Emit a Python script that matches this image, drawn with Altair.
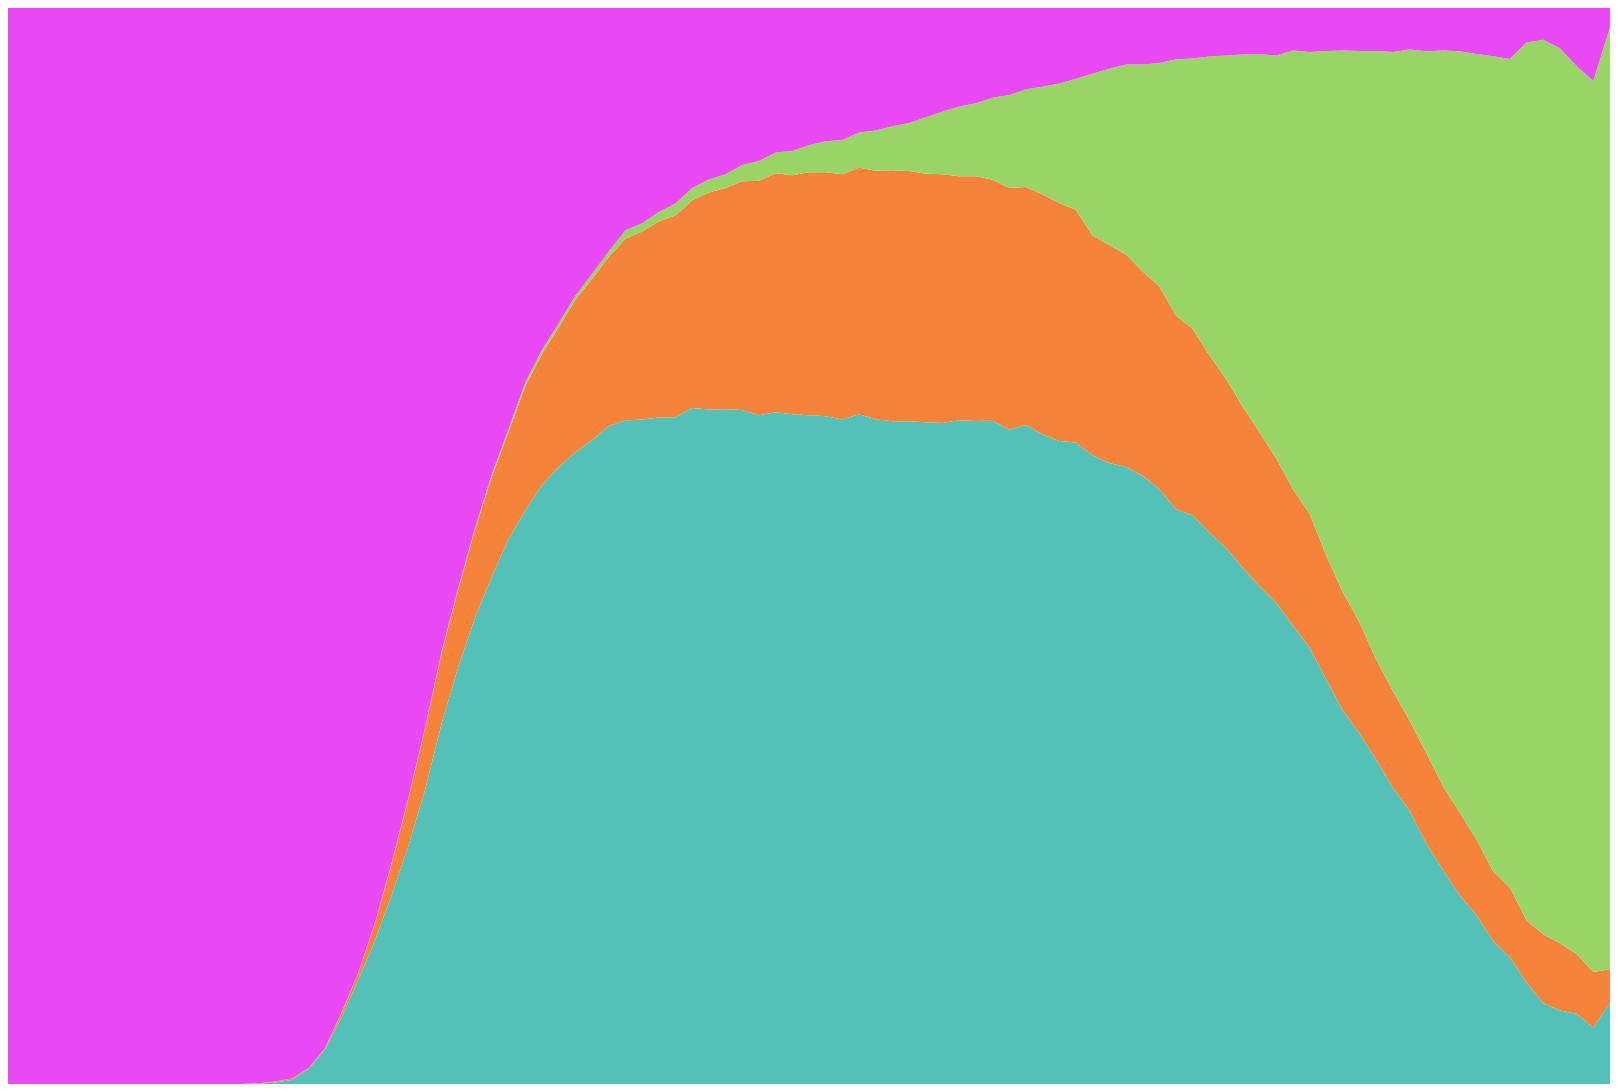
import altair as alt
import pandas as pd

# x positions (97 samples)
x_vals = list(range(97))

series_names = ["teal", "orange", "green", "magenta"]
series_colors = ["#54c1b9", "#f5843a", "#99d566", "#e94af5"]

teal = [0] * 15 + [
    0.02, 0.14, 0.37, 1.37, 3.21, 6.23, 9.71, 13.37, 17.58, 22.16,
    27.38, 33.61, 38.83, 43.41, 47.16, 50.64, 53.30, 55.68, 57.35, 58.73,
    59.83, 61.14, 61.66, 61.75, 61.95, 61.97, 62.82, 62.68, 62.70, 62.64,
    62.15, 62.43, 62.24, 62.15, 62.06, 61.75, 62.24, 61.79, 61.60, 61.60,
    61.51, 61.42, 61.69, 61.63, 61.63, 60.83, 61.24, 60.38, 59.77, 59.62,
    58.42, 57.72, 57.35, 56.50, 55.28, 53.39, 52.84, 51.22, 49.79, 47.96,
    46.27, 44.69, 42.58, 40.54, 37.57, 34.68, 32.54, 30.10, 27.50, 25.37,
    22.32, 19.87, 17.52, 15.69, 13.28, 11.77, 9.43, 7.51, 6.84, 6.53,
    5.22, 7.60,
]

orange = [0] * 15 + [
    0.04, 0.08, 0.13, 0.07, 0.11, 0.41, 0.60, 1.58, 2.93, 4.40,
    5.68, 6.55, 7.23, 8.15, 9.29, 9.98, 11.58, 12.18, 12.98, 14.17,
    14.99, 15.73, 16.90, 17.49, 18.21, 18.75, 19.32, 20.16, 20.57, 21.27,
    21.79, 22.22, 22.22, 22.58, 22.67, 22.80, 22.92, 23.08, 23.32, 23.26,
    23.08, 23.13, 22.67, 22.74, 22.41, 22.44, 22.12, 22.29, 22.10, 21.61,
    20.42, 20.26, 19.75, 19.02, 18.83, 18.01, 17.34, 16.48, 15.71, 14.95,
    14.29, 13.43, 12.70, 12.45, 11.51, 10.99, 10.32, 9.30, 9.01, 8.40,
    8.39, 7.78, 7.69, 7.02, 6.50, 6.48, 5.77, 6.41, 6.25, 5.56,
    5.19, 3.07,
]

green = [0] * 15 + [
    0.01, 0.01, 0.01, 0.02, 0.03, 0.05, 0.05, 0.06, 0.09, 0.09,
    0.09, 0.14, 0.18, 0.18, 0.23, 0.27, 0.32, 0.37, 0.37, 0.37,
    0.46, 0.50, 0.80, 0.75, 0.89, 1.12, 1.13, 1.22, 1.27, 1.50,
    1.83, 1.92, 2.26, 2.51, 2.88, 3.18, 3.27, 3.75, 4.09, 4.45,
    5.25, 5.81, 6.47, 6.78, 7.63, 8.64, 9.10, 10.01, 11.11, 12.21,
    15.05, 16.37, 17.65, 19.23, 20.79, 23.84, 25.13, 27.78, 30.07, 32.76,
    35.16, 37.45, 40.78, 42.91, 46.91, 50.39, 53.14, 56.59, 59.40, 62.39,
    65.27, 68.41, 70.76, 73.01, 75.73, 77.01, 81.59, 83.12, 83.18, 82.51,
    82.81, 87.56,
]

magenta = [100] * 15 + [
    99.93, 99.77, 99.50, 98.53, 96.66, 93.32, 89.65, 84.98, 79.40, 73.35,
    66.85, 59.71, 53.75, 48.26, 43.32, 39.10, 34.80, 31.78, 29.30, 26.74,
    24.73, 22.62, 20.65, 20.01, 18.96, 18.16, 16.73, 15.93, 15.46, 14.59,
    14.22, 13.43, 13.28, 12.76, 12.39, 12.27, 11.57, 11.38, 10.99, 10.69,
    10.16, 9.64, 9.16, 8.86, 8.33, 8.09, 7.54, 7.33, 7.02, 6.57,
    6.11, 5.65, 5.25, 5.25, 5.10, 4.76, 4.70, 4.51, 4.42, 4.33,
    4.28, 4.42, 3.94, 4.09, 4.00, 3.94, 4.00, 4.00, 4.09, 3.85,
    4.03, 3.94, 4.03, 4.28, 4.49, 4.73, 3.21, 2.96, 3.73, 5.40,
    6.78, 1.77,
]

rows = []
for order, (name, vals) in enumerate(zip(series_names, [teal, orange, green, magenta])):
    for xv, v in zip(x_vals, vals):
        rows.append({"x": xv, "v": v, "s": name, "o": order})
df = pd.DataFrame(rows)

chart = (
    alt.Chart(df)
    .mark_area(interpolate="linear")
    .encode(
        x=alt.X("x:Q", axis=None, scale=alt.Scale(domain=[0, 96], nice=False, zero=False)),
        y=alt.Y("v:Q", stack="normalize", axis=None, scale=alt.Scale(domain=[0, 1], nice=False)),
        color=alt.Color("s:N", legend=None,
                        scale=alt.Scale(domain=series_names, range=series_colors)),
        order=alt.Order("o:Q"),
    )
    .properties(width=1602, height=1076, padding=0, background="white")
    .configure_view(stroke=None)
)

chart.save("out.html", embed_options={"renderer": "svg", "actions": False})
